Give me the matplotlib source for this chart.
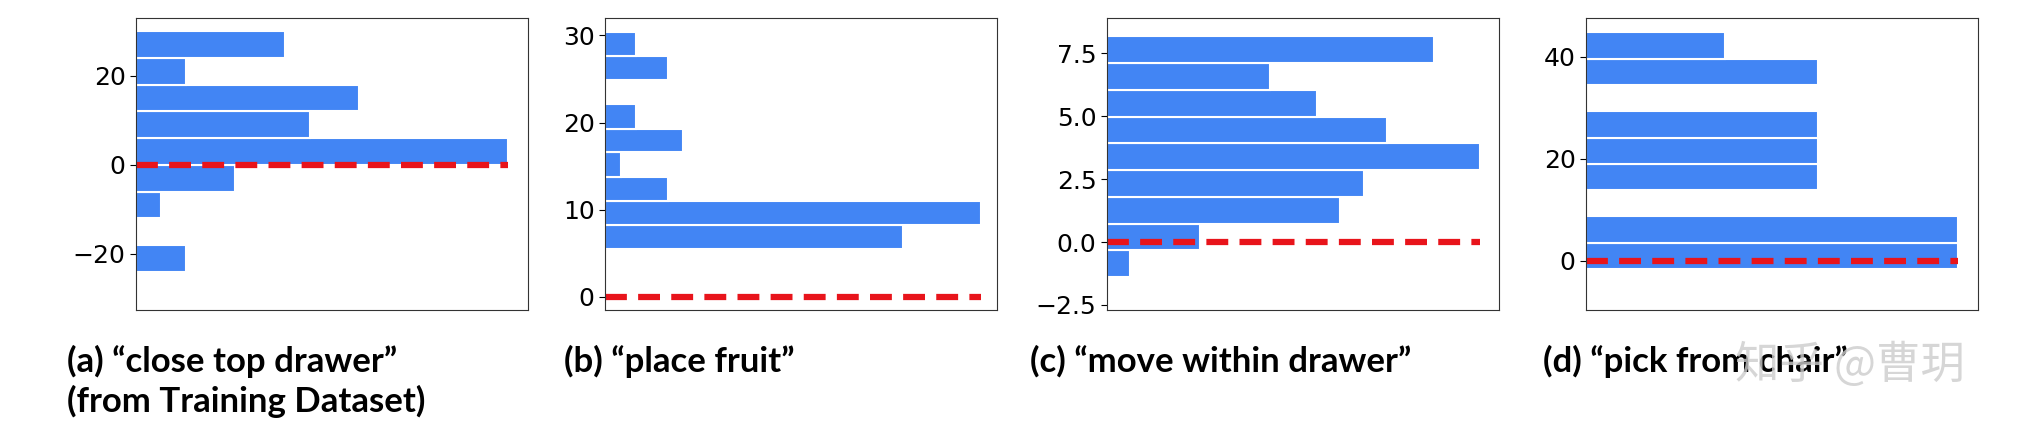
import matplotlib
matplotlib.use("Agg")
import matplotlib.pyplot as plt
import numpy as np

# histogram bins (edges) and counts, bottom-up
edges_a = [-24, -18, -12, -6, 0, 6, 12, 18, 24, 30]
counts_a = [2, 0, 1, 4, 15, 7, 9, 2, 6]

edges_b = [5.5, 8.3, 11.0, 13.8, 16.6, 19.3, 22.1, 24.9, 27.6, 30.4]
counts_b = [19, 24, 4, 1, 5, 2, 0, 4, 2]

edges_c = [-1.39, -0.33, 0.73, 1.80, 2.86, 3.92, 4.98, 6.05, 7.11, 8.17]
counts_c = [1, 4, 10, 11, 16, 12, 9, 7, 14]

edges_d = [-1.67, 3.5, 8.7, 13.8, 19.0, 24.1, 29.3, 34.5, 39.6, 44.8]
counts_d = [8, 8, 0, 5, 5, 5, 0, 5, 3]

titles = ["(a) \u201cclose top drawer\u201d\n(from Training Dataset)",
          "(b) \u201cplace fruit\u201d",
          "(c) \u201cmove within drawer\u201d",
          "(d) \u201cpick from chair\u201d"]
yticks = [[-20, 0, 20], [0, 10, 20, 30], [-2.5, 0.0, 2.5, 5.0, 7.5], [0, 20, 40]]
ylims = [(-32.6, 33), (-1.5, 32), (-2.7, 8.9), (-9.7, 47.6)]
xlims = [15.8, 25, 16.8, 8.44]

W, H = 2032, 436
fig = plt.figure(figsize=(W / 100, H / 100), dpi=100)
lefts = [136, 605, 1107, 1586]
width = 392
bottom, top = 310, 18
title_x = [67, 564, 1030, 1543]

data = [(edges_a, counts_a), (edges_b, counts_b), (edges_c, counts_c), (edges_d, counts_d)]
blue = "#4285f4"
for i, (edges, counts) in enumerate(data):
    ax = fig.add_axes([lefts[i] / W, 1 - bottom / H, width / W, (bottom - top) / H])
    e = np.array(edges)
    ax.barh(e[:-1], counts, height=np.diff(e), align="edge", color=blue,
            edgecolor="white", linewidth=1.5)
    ax.plot([0, max(counts)], [0, 0], color="#e8141b", linestyle="--", linewidth=4.5,
            dashes=(3.5, 1.8))
    ax.set_xlim(0, xlims[i])
    ax.set_ylim(*ylims[i])
    ax.set_xticks([])
    ax.set_yticks(yticks[i])
    ax.tick_params(axis="y", labelsize=18, length=4)
    for s in ax.spines.values():
        s.set_color("#333333")
    fig.text(title_x[i] / W, 1 - 345 / H, titles[i], fontsize=25, fontweight="bold",
             family="Lato", va="top", ha="left", linespacing=1.25)

fig.text(1735 / W, 1 - 365 / H, "知乎 @曹玥", fontsize=32, color="#cccccc", alpha=0.8,
         family=["Noto Sans CJK SC", "DejaVu Sans"], va="center", ha="left")

fig.savefig("out.png", dpi=100)
